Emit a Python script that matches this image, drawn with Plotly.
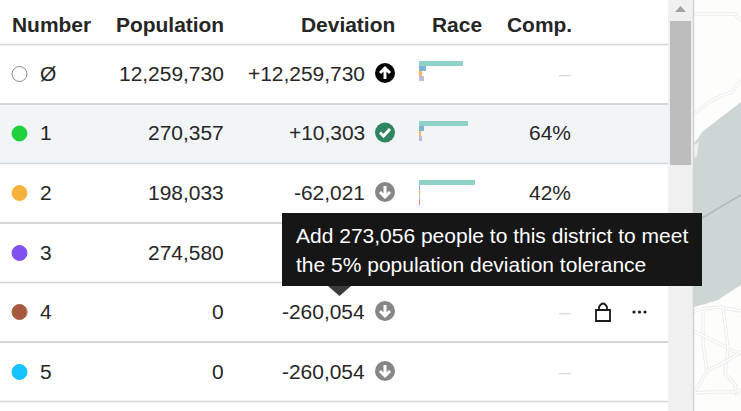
import plotly.graph_objects as go

# ---- data ----
numbers = ["Ø", "1", "2", "3", "4", "5"]
populations = ["12,259,730", "270,357", "198,033", "274,580", "0", "0"]
deviations = ["+12,259,730", "+10,303", "-62,021", "", "-260,054", "-260,054"]
comp = ["–", "64%", "42%", "", "–", "–"]
headers = ["Number", "Population", "Deviation", "Race", "Comp."]
dot_colors = ["#ffffff", "#1fd13c", "#f4b23c", "#8350f0", "#a85a3f", "#14c3ff"]
race_colors = ["#8dd3c7", "#80b1d3", "#fdb462", "#bebada", "#fb8072"]
race_categories = ["White", "Hispanic", "Black", "Asian", "Other"]
race_row0 = [73, 12, 5, 8, 0]
race_row1 = [82, 8, 3, 5, 0]
race_row2 = [93, 1, 1, 1, 1]
tooltip_lines = ["Add 273,056 people to this district to meet", "the 5% population deviation tolerance"]

W, H = 741, 411
FONT = "Liberation Sans, Arial, sans-serif"
INK = "#262626"
SZ = 20.95
row_y = [74, 133.5, 193, 253, 312, 372]
lines_y = [44.5, 104, 163.5, 223, 282.5, 342, 401.5]

shapes, anns = [], []

def text(x, y, t, anchor, size=SZ, color=INK):
    # annotation boxes carry about 2px of padding on the anchored side, 1px low
    dx = {"left": -2, "right": 2, "center": 0}[anchor]
    anns.append(dict(x=x + dx, y=y - 1, text=t, xanchor=anchor, yanchor="middle", showarrow=False,
                     font=dict(family=FONT, size=size, color=color)))

# map behind
shapes.append(dict(type="rect", x0=693, x1=741, y0=0, y1=411, fillcolor="#fdfdfc", line_width=0, layer="below"))
shapes.append(dict(type="path", path="M694 143 L699 137 L702 132 L741 102 L741 285 L725 295 L718 300 L705 304 L694 307 Z",
                   fillcolor="#cdd5d5", line_width=0, layer="below"))
shapes.append(dict(type="path", path="M694 145 L699 142 L697 156 L694 158 Z", fillcolor="#eef2ea", line_width=0, layer="below"))
shapes.append(dict(type="path", path="M702 218 L741 195", line=dict(color="#b2b8b8", width=1.5), layer="below"))
road_paths = ["M693 14 L735 14 L741 21", "M693 115 L711 101 L723 95 L732 92 L741 80",
              "M693 312 L700 309 L720 307 L741 311",
              "M703 311 L703 344 L707 371 L695 391",
              "M693 331 L710 339 L733 351 L741 354",
              "M723 308 L728 348 L725 374 L735 384 L737 396",
              "M707 371 L727 361 L741 351",
              "M695 393 L710 392 L735 392 L741 390"]
for p in road_paths:
    shapes.append(dict(type="path", path=p, line=dict(color="#ebebea", width=3.4), layer="below"))
    shapes.append(dict(type="path", path=p, line=dict(color="#ffffff", width=1.5), layer="below"))

# table
shapes.append(dict(type="rect", x0=0, x1=668, y0=0, y1=411, fillcolor="#ffffff", line_width=0, layer="below"))
shapes.append(dict(type="rect", x0=0, x1=668, y0=105, y1=163, fillcolor="#f1f5f8", line_width=0, layer="below"))
for i, y in enumerate(lines_y):
    shapes.append(dict(type="line", x0=0, x1=668, y0=y, y1=y,
                       line=dict(color="#d6d6d6", width=2 if i % 2 == 1 else 1.5), layer="below"))

# scrollbar
shapes.append(dict(type="rect", x0=668, x1=693, y0=0, y1=411, fillcolor="#f0f0f0", line_width=0, layer="below"))
shapes.append(dict(type="line", x0=693.5, x1=693.5, y0=0, y1=411, line=dict(color="#d4d4d4", width=1.5), layer="below"))
shapes.append(dict(type="rect", x0=670, x1=691, y0=21, y1=165, fillcolor="#bdbdbd", line_width=0, layer="below"))
shapes.append(dict(type="path", path="M675 12 L680.5 6 L686 12 Z", fillcolor="#a3a3a3", line_width=0, layer="below"))

# status icons
def badge(cy, kind):
    cx = 385
    col = {"up": "#000000", "ok": "#2f855f", "down": "#868686"}[kind]
    shapes.append(dict(type="circle", x0=cx-10, x1=cx+10, y0=cy-10, y1=cy+10, fillcolor=col, line_width=0))
    if kind == "ok":
        p = f"M{cx-5} {cy} L{cx-1.5} {cy+3.5} L{cx+5} {cy-3.5}"
    elif kind == "up":
        p = f"M{cx} {cy+6} L{cx} {cy-5} M{cx-5} {cy} L{cx} {cy-5} L{cx+5} {cy}"
    else:
        p = f"M{cx} {cy-6} L{cx} {cy+5} M{cx-5} {cy} L{cx} {cy+5} L{cx+5} {cy}"
    shapes.append(dict(type="path", path=p, line=dict(color="#ffffff", width=3)))

for i, kind in {0: "up", 1: "ok", 2: "down", 4: "down", 5: "down"}.items():
    badge(row_y[i] - 1, kind)

# lock icon
shapes.append(dict(type="rect", x0=596, x1=610, y0=310, y1=321, line=dict(color="#1a1a1a", width=1.8)))
shapes.append(dict(type="path", path="M599 310 L599 307 Q603 300 607 307 L607 310", line=dict(color="#1a1a1a", width=1.8)))

# tooltip
shapes.append(dict(type="path", path="M328 286 L351 286 L339.5 296 Z", fillcolor="#3a3a3a", line_width=0))
shapes.append(dict(type="rect", x0=282, x1=702, y0=213, y1=286, fillcolor="#161616", line_width=0))

fig = go.Figure()

# headers
for x, h, anc in zip([12, 224, 395, 457, 572], headers, ["left", "right", "right", "center", "right"]):
    text(x, 25, f"<b>{h}</b>", anc)

# dots
fig.add_trace(go.Scatter(x=[19.5]*6, y=row_y, mode="markers", hoverinfo="skip",
                         marker=dict(size=15, color=dot_colors,
                                     line=dict(color=["#8a8a8a"]+dot_colors[1:], width=1))))
for y, t, p, d, c in zip(row_y, numbers, populations, deviations, comp):
    text(40, y, t, "left")
    text(224, y, p, "right")
    if d:
        text(365, y, d, "right")
    if c:
        text(571, y, c, "right", color="#d8d8d8" if c == "–" else INK)

# dots menu
fig.add_trace(go.Scatter(x=[634, 639.5, 645], y=[312, 312, 312], mode="markers", hoverinfo="skip",
                         marker=dict(size=3.2, color="#1a1a2a")))

# tooltip text
for y, t in zip([236, 265], tooltip_lines):
    text(296, y, t, "left", size=21, color="#ffffff")

# race mini bars, one small axis pair per row
rows = [(race_row0, 61), (race_row1, 121), (race_row2, 180)]
layout_extra = {}
X0, XW = 419, 60
for i, (vals, top) in enumerate(rows):
    n = i + 2
    fig.add_trace(go.Bar(x=vals, y=race_categories, orientation="h", xaxis=f"x{n}", yaxis=f"y{n}",
                         marker=dict(color=race_colors, line_width=0), hoverinfo="skip", width=1))
    layout_extra[f"xaxis{n}"] = dict(domain=[X0/W, (X0+XW)/W], range=[0, 100], visible=False, fixedrange=True)
    layout_extra[f"yaxis{n}"] = dict(domain=[1-(top+25)/H, 1-top/H], range=[4.5, -0.5], visible=False, fixedrange=True,
                                     type="category", categoryorder="array", categoryarray=race_categories, anchor=f"x{n}")

fig.update_layout(width=W, height=H, margin=dict(l=0, r=0, t=0, b=0), showlegend=False,
                  paper_bgcolor="#ffffff", plot_bgcolor="rgba(0,0,0,0)", bargap=0, shapes=shapes, annotations=anns,
                  xaxis=dict(range=[0, W], visible=False, fixedrange=True, domain=[0, 1]),
                  yaxis=dict(range=[H, 0], visible=False, fixedrange=True, domain=[0, 1]),
                  **layout_extra)
fig.write_html("out.html", config={"displayModeBar": False}, default_width=f"{W}px", default_height=f"{H}px",
               post_script="document.body.style.margin='0';")
